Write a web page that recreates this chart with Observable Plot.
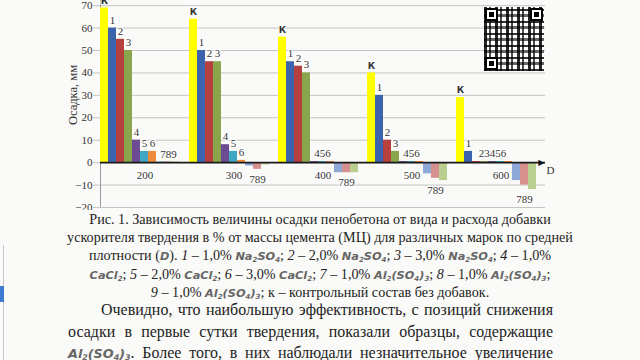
<!DOCTYPE html>
<html><head><meta charset="utf-8">
<script src="https://cdn.jsdelivr.net/npm/d3@7"></script>
<script src="https://cdn.jsdelivr.net/npm/@observablehq/plot@0.6"></script>
<style>
html,body{margin:0;padding:0;background:#fafaf8;width:640px;height:360px;overflow:hidden;position:relative;font-family:'Liberation Serif','DejaVu Serif','Times New Roman',Times,serif;color:#222;}
#chart{position:absolute;left:0;top:0;width:640px;height:210px;}
#ylab{position:absolute;left:73px;top:95px;transform:translate(-50%,-50%) rotate(-90deg);font-size:12.5px;white-space:nowrap;color:#333;}
#qr{position:absolute;left:484px;top:7px;width:60px;height:64px;background:#fff;
 background-image:repeating-linear-gradient(90deg,rgba(0,0,0,.85) 0 3px,transparent 3px 5px,rgba(0,0,0,.7) 5px 7px,transparent 7px 11px),
 repeating-linear-gradient(0deg,rgba(0,0,0,.8) 0 2px,transparent 2px 6px,rgba(0,0,0,.6) 6px 9px,transparent 9px 12px);}
.fp{position:absolute;width:9px;height:9px;border:2.5px solid #000;background:#fff;}
.fp::after{content:"";position:absolute;left:2px;top:2px;width:5px;height:5px;background:#000;}
#caption{position:absolute;left:0;top:210px;width:640px;font-size:15px;line-height:18.2px;color:#222;}
#caption div{white-space:nowrap;height:18.2px;width:max-content;margin:0 auto;}
.f{font-family:'DejaVu Sans',sans-serif;font-weight:bold;font-style:italic;color:#666;font-size:0.8em;}
sub{font-size:0.62em;vertical-align:-0.25em;line-height:0;}
#body{position:absolute;left:68px;top:299px;width:485px;font-size:18px;line-height:21.5px;color:#222;}
#body div{text-align:justify;text-align-last:justify;height:21.5px;overflow:visible;}
#edge{position:absolute;left:0;top:286px;width:4px;height:16px;background:#3d7bd0;}
#edgeline{position:absolute;left:3px;top:245px;width:1px;height:115px;background:#c8c8c8;}
</style></head><body>
<div id="chart"></div>
<div id="ylab">Осадка, мм</div>
<div id="qr"><div class="fp" style="left:1px;top:1px"></div><div class="fp" style="right:1px;top:1px"></div><div class="fp" style="left:1px;bottom:1px"></div></div>
<div id="caption">
<div>Рис. 1. Зависимость величины осадки пенобетона от вида и расхода добавки</div>
<div id="capref">ускорителя твердения в % от массы цемента (МЦ) для различных марок по средней</div>
<div>плотности (<span class="f">D</span>). <i>1</i> – 1,0% <span class="f">Na<sub>2</sub>SO<sub>4</sub></span>; <i>2</i> – 2,0% <span class="f">Na<sub>2</sub>SO<sub>4</sub></span>; <i>3</i> – 3,0% <span class="f">Na<sub>2</sub>SO<sub>4</sub></span>; <i>4</i> – 1,0%</div>
<div><span class="f">CaCl<sub>2</sub></span>; <i>5</i> – 2,0% <span class="f">CaCl<sub>2</sub></span>; <i>6</i> – 3,0% <span class="f">CaCl<sub>2</sub></span>; <i>7</i> – 1,0% <span class="f">Al<sub>2</sub>(SO<sub>4</sub>)<sub>3</sub></span>; <i>8</i> – 1,0% <span class="f">Al<sub>2</sub>(SO<sub>4</sub>)<sub>3</sub></span>;</div>
<div><i>9</i> – 1,0% <span class="f">Al<sub>2</sub>(SO<sub>4</sub>)<sub>3</sub></span>; к – контрольный состав без добавок.</div>
</div>
<div id="body">
<div style="padding-left:33px">Очевидно, что наибольшую эффективность, с позиций снижения</div>
<div>осадки в первые сутки твердения, показали образцы, содержащие</div>
<div><span class="f">Al<sub>2</sub>(SO<sub>4</sub>)<sub>3</sub></span>. Более того, в них наблюдали незначительное увеличение</div>
</div>
<div id="edgeline"></div><div id="edge"></div>
<script>
// ---- data ----
const groups = ["200", "300", "400", "500", "600"];
const series = ["К", "1", "2", "3", "4", "5", "6", "7", "8", "9"];
const valK = [69, 64, 56, 40, 29];
const val1 = [60, 50, 45, 30, 5];
const val2 = [55, 45, 43, 10, 0.5];
const val3 = [50, 45, 40, 5, 0.5];
const val4 = [10, 8, 0.5, 0.5, 0.5];
const val5 = [5, 5, 0.5, 0.5, 0.5];
const val6 = [5, 1, 0.5, 0.5, 0.5];
const val7 = [0.3, -1.5, -4.5, -5, -8];
const val8 = [0.3, -3, -4.5, -7, -10];
const val9 = [0.3, -1, -4.5, -8, -12];
const yTicks = [-20, -10, 0, 10, 20, 30, 40, 50, 60, 70];
const colors = ["#ffff00", "#3c64ac", "#b5403d", "#8aa64c", "#6b4c93", "#3fa6c3", "#ee8a3e", "#8fa9d6", "#d6918f", "#b9cf8f"];
const labelGroup = ["200","200","200","200","200","200","200","200",
                    "300","300","300","300","300","300","300","300",
                    "400","400","400","400","400","400",
                    "500","500","500","500","500","500",
                    "600","600","600","600"];
const labelText  = ["К","1","2","3","4","5","6","789",
                    "К","1","2","3","4","5","6","789",
                    "К","1","2","3","456","789",
                    "К","1","2","3","456","789",
                    "К","1","23456","789"];
const axisLabel = "D";

// ---- pick an installed serif font ----
function hasFont(name) {
  const c = document.createElement("canvas").getContext("2d");
  const s = "абвгдежзийклмнопрстWwMmIil1 0,.";
  c.font = "40px monospace"; const w0 = c.measureText(s).width;
  c.font = `40px '${name}', monospace`; const w1 = c.measureText(s).width;
  return Math.abs(w0 - w1) > 0.5;
}
const serifName = ["Liberation Serif", "Tinos", "Times New Roman", "DejaVu Serif", "Noto Serif"].find(hasFont);
const serif = serifName ? `'${serifName}', serif` : "serif";
document.body.style.fontFamily = serif;
// fit caption / body text sizes to the reference line widths
const cap = document.getElementById("caption");
const capW = document.getElementById("capref").getBoundingClientRect().width;
cap.style.fontSize = (15 * 506 / capW) + "px";
const bod = document.getElementById("body");
let bodyScale = 19 / 18;
bod.querySelectorAll("div").forEach(div => {
  const target = div.clientWidth - (parseFloat(div.style.paddingLeft) || 0);
  const probe = document.createElement("span");
  probe.style.cssText = "position:absolute;left:0;top:0;visibility:hidden;white-space:nowrap;";
  probe.innerHTML = div.innerHTML;
  bod.appendChild(probe);
  bodyScale = Math.min(bodyScale, (target - 8) / probe.getBoundingClientRect().width);
  probe.remove();
});
bod.style.fontSize = (18 * bodyScale) + "px";

// ---- build table ----
const seriesValues = [valK, val1, val2, val3, val4, val5, val6, val7, val8, val9];
const table = [];
groups.forEach((g, gi) => series.forEach((s, si) => table.push({group: g, series: s, value: seriesValues[si][gi]})));
const valueOf = (g, s) => seriesValues[series.indexOf(s)][groups.indexOf(g)];
const labels = labelGroup.map((g, i) => {
  const t = labelText[i];
  const covered = t === "К" ? ["К"] : t.split("");
  const vals = covered.map(s => valueOf(g, s));
  const below = Math.max(...vals) < 0;
  return {group: g, text: t, anchor: covered[Math.floor(covered.length / 2)], y: below ? Math.min(...vals) : Math.max(...vals), below, bold: t === "К"};
});

function build(axisDx) {
  return Plot.plot({
    width: 640, height: 210,
    marginLeft: 99, marginRight: 95, marginTop: 0, marginBottom: 3,
    style: {background: "transparent", fontFamily: serif},
    fx: {domain: groups, padding: 0, axis: null},
    x: {domain: series, paddingInner: 0, paddingOuter: 0.4, align: 0, axis: null},
    y: {domain: [-20, 72.3], axis: null},
    color: {domain: series, range: colors},
    marks: [
      Plot.gridY(yTicks, {stroke: "#c4c4c4", strokeOpacity: 1}),
      Plot.axisY(yTicks, {tickSize: 7, tickPadding: 1, stroke: "#c4c4c4", fill: "#333", fontSize: 11, fontFamily: serif, label: null}),
      Plot.ruleX(["К"], {fx: () => "200", x: d => d, y1: () => -20, y2: () => 72.3, stroke: "#999", dx: axisDx}),
      Plot.barY(table, {fx: "group", x: "series", y: "value", fill: "series"}),
      Plot.ruleY([0], {stroke: "#1a1a1a", strokeWidth: 1.8}),
      Plot.text(["▶"], {fx: () => "600", y: () => 0, text: d => d, frameAnchor: "right", textAnchor: "end", dx: -1, fontSize: 8, fontFamily: "DejaVu Sans", fill: "#111"}),
      Plot.text([axisLabel], {fx: () => "600", y: () => -3.5, text: d => d, frameAnchor: "right", textAnchor: "start", dx: 1, fontSize: 11, fontFamily: serif, fill: "#333"}),
      Plot.text(groups, {fx: d => d, y: () => -5.5, text: d => d, fontSize: 11, fontFamily: serif, fill: "#333", stroke: "white", strokeWidth: 3}),
      Plot.text(labels.filter(d => !d.below && !d.bold), {fx: "group", x: "anchor", y: "y", text: "text", dy: -8, fontSize: 11, fontFamily: serif, fill: "#333", stroke: "white", strokeWidth: 2.5}),
      Plot.text(labels.filter(d => d.below), {fx: "group", x: "anchor", y: "y", text: "text", dy: 10, fontSize: 11, fontFamily: serif, fill: "#333", stroke: "white", strokeWidth: 2.5}),
      Plot.text(labels.filter(d => d.bold), {fx: "group", x: "anchor", y: "y", text: "text", dy: -7, fontSize: 9, fontWeight: "bold", fontFamily: "DejaVu Sans", fill: "#333", stroke: "white", strokeWidth: 2})
    ]
  });
}
let plot = build(0);
const bw = plot.scale("x").bandwidth;
plot = build(-bw / 2);
document.getElementById("chart").append(plot);
</script>
</body></html>
